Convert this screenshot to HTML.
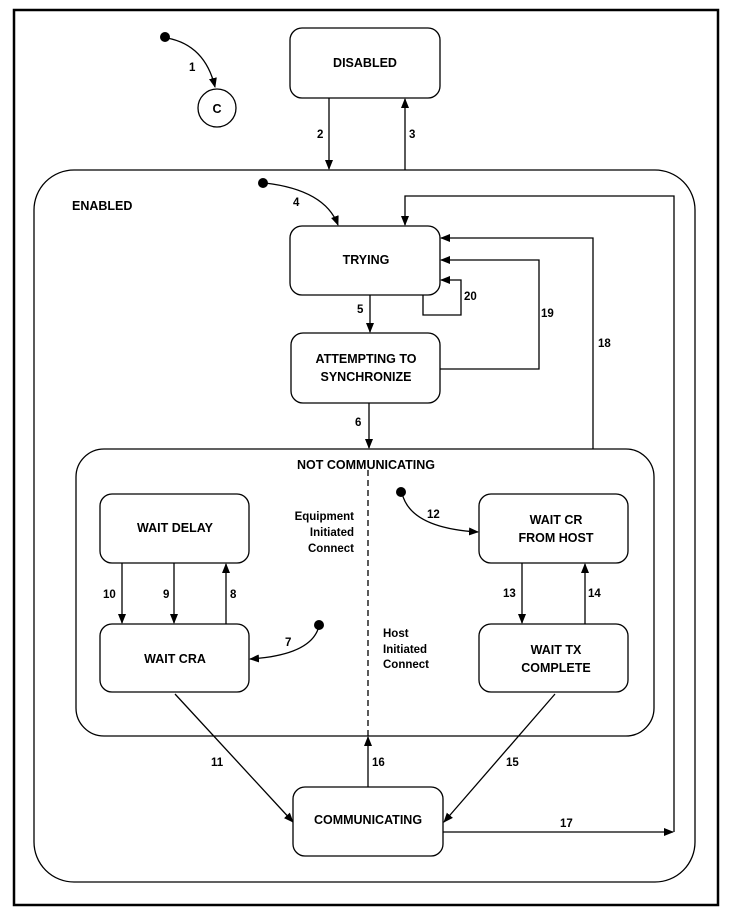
<!DOCTYPE html>
<html><head><meta charset="utf-8"><style>
html,body{margin:0;padding:0;background:#fff}
svg{display:block}
text{font-family:"Liberation Sans",Arial,sans-serif;font-weight:bold;font-size:12.5px;fill:#000}
.s{font-size:11.5px}
</style></head><body>
<svg width="733" height="913" viewBox="0 0 733 913" xmlns="http://www.w3.org/2000/svg">
<defs>
<marker id="a" markerWidth="10" markerHeight="8" refX="9" refY="4" orient="auto" markerUnits="userSpaceOnUse">
<path d="M0,0 L10,4 L0,8 Z" fill="#000"/></marker>
</defs>
<rect x="14" y="10" width="704" height="895" fill="none" stroke="#000" stroke-width="2.5"/>
<g fill="none" stroke="#000" stroke-width="1.3">
<rect x="34" y="170" width="661" height="712" rx="40"/>
<rect x="76" y="449" width="578" height="287" rx="28"/>
<rect x="290" y="28" width="150" height="70" rx="12"/>
<rect x="290" y="226" width="150" height="69" rx="12"/>
<rect x="291" y="333" width="149" height="70" rx="12"/>
<rect x="100" y="494" width="149" height="69" rx="12"/>
<rect x="100" y="624" width="149" height="68" rx="12"/>
<rect x="479" y="494" width="149" height="69" rx="12"/>
<rect x="479" y="624" width="149" height="68" rx="12"/>
<rect x="293" y="787" width="150" height="69" rx="12"/>
<circle cx="217" cy="108" r="19"/>
<line x1="368" y1="470" x2="368" y2="736" stroke-dasharray="6,4"/>
<path d="M167,38 Q205,45 215,87" marker-end="url(#a)"/>
<line x1="329" y1="98" x2="329" y2="169" marker-end="url(#a)"/>
<line x1="405" y1="170" x2="405" y2="99" marker-end="url(#a)"/>
<path d="M265,183 Q325,190 338,225" marker-end="url(#a)"/>
<line x1="370" y1="295" x2="370" y2="332" marker-end="url(#a)"/>
<line x1="369" y1="403" x2="369" y2="448" marker-end="url(#a)"/>
<path d="M423,295 V315 H461 V280 H441" marker-end="url(#a)"/>
<path d="M440,369 H539 V260 H441" marker-end="url(#a)"/>
<path d="M593,449 V238 H441" marker-end="url(#a)"/>
<path d="M674,832 V196 H405 V225" marker-end="url(#a)"/>
<line x1="122" y1="563" x2="122" y2="623" marker-end="url(#a)"/>
<line x1="174" y1="563" x2="174" y2="623" marker-end="url(#a)"/>
<line x1="226" y1="624" x2="226" y2="564" marker-end="url(#a)"/>
<path d="M319,626 Q312,655 250,659" marker-end="url(#a)"/>
<path d="M402,493 Q410,528 478,532" marker-end="url(#a)"/>
<line x1="522" y1="563" x2="522" y2="623" marker-end="url(#a)"/>
<line x1="585" y1="624" x2="585" y2="564" marker-end="url(#a)"/>
<line x1="175" y1="694" x2="293" y2="822" marker-end="url(#a)"/>
<line x1="555" y1="694" x2="444" y2="822" marker-end="url(#a)"/>
<line x1="368" y1="787" x2="368" y2="737" marker-end="url(#a)"/>
<line x1="443" y1="832" x2="673" y2="832" marker-end="url(#a)"/>
</g>
<g fill="#000">
<circle cx="165" cy="37" r="5"/><circle cx="263" cy="183" r="5"/>
<circle cx="319" cy="625" r="5"/><circle cx="401" cy="492" r="5"/>
</g>
<g text-anchor="middle">
<text x="365" y="67">DISABLED</text>
<text x="217" y="113">C</text>
<text x="366" y="264">TRYING</text>
<text x="366" y="363">ATTEMPTING TO</text>
<text x="366" y="381">SYNCHRONIZE</text>
<text x="366" y="469">NOT COMMUNICATING</text>
<text x="175" y="532">WAIT DELAY</text>
<text x="175" y="663">WAIT CRA</text>
<text x="556" y="524">WAIT CR</text>
<text x="556" y="542">FROM HOST</text>
<text x="556" y="654">WAIT TX</text>
<text x="556" y="672">COMPLETE</text>
<text x="368" y="824">COMMUNICATING</text>
</g>
<text x="72" y="210">ENABLED</text>
<g class="s">
<text class="s" x="189" y="71">1</text>
<text class="s" x="317" y="138">2</text>
<text class="s" x="409" y="138">3</text>
<text class="s" x="293" y="206">4</text>
<text class="s" x="357" y="313">5</text>
<text class="s" x="355" y="426">6</text>
<text class="s" x="285" y="646">7</text>
<text class="s" x="230" y="598">8</text>
<text class="s" x="163" y="598">9</text>
<text class="s" x="103" y="598">10</text>
<text class="s" x="211" y="766">11</text>
<text class="s" x="427" y="518">12</text>
<text class="s" x="503" y="597">13</text>
<text class="s" x="588" y="597">14</text>
<text class="s" x="506" y="766">15</text>
<text class="s" x="372" y="766">16</text>
<text class="s" x="560" y="827">17</text>
<text class="s" x="598" y="347">18</text>
<text class="s" x="541" y="317">19</text>
<text class="s" x="464" y="300">20</text>
<text class="s" x="354" y="520" text-anchor="end">Equipment</text>
<text class="s" x="354" y="536" text-anchor="end">Initiated</text>
<text class="s" x="354" y="552" text-anchor="end">Connect</text>
<text class="s" x="383" y="637">Host</text>
<text class="s" x="383" y="653">Initiated</text>
<text class="s" x="383" y="668">Connect</text>
</g>
</svg>
</body></html>
